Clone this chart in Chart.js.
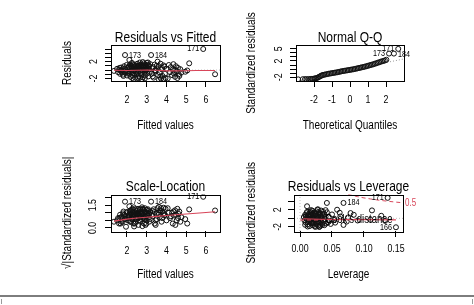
<!DOCTYPE html>
<html><head><meta charset="utf-8">
<script src="https://cdn.jsdelivr.net/npm/chart.js@4/dist/chart.umd.min.js"></script>
<style>
html,body{margin:0;padding:0;background:#fff;}
#wrap{position:relative;width:474px;height:305px;overflow:hidden;background:#fff;}
#wrap canvas{position:absolute;left:0;top:0;}
#rule{position:absolute;left:0;top:295px;width:474px;height:0;border-top:2px solid #7d7d7d;}
.mk{position:absolute;top:299px;width:1px;height:5px;background:#9a9a9a;}
</style></head><body>
<div id="wrap">
<canvas id="c1" width="474" height="305"></canvas>
<canvas id="c2" width="474" height="305"></canvas>
<canvas id="c3" width="474" height="305"></canvas>
<canvas id="c4" width="474" height="305"></canvas>
<div id="rule"></div><div class="mk" style="left:1px"></div><div class="mk" style="left:472px"></div>
</div>
<script>
// ---------- DATA ----------
// Residuals vs Fitted / Scale-Location (shared fitted values)
const fitted = [1.34,1.50,1.55,1.60,1.65,1.70,1.72,1.78,1.80,1.85,1.88,1.90,1.92,1.95,1.98,2.00,2.02,1.75,1.62,1.68,
 2.05,2.08,2.10,2.12,2.15,2.18,2.20,2.22,2.25,2.28,2.30,2.32,2.35,2.38,2.40,2.42,2.45,2.47,2.50,2.20,2.30,2.40,2.15,2.27,2.36,2.48,2.10,2.25,2.44,2.06,
 2.52,2.55,2.58,2.60,2.62,2.65,2.68,2.70,2.72,2.75,2.78,2.80,2.82,2.85,2.88,2.90,2.92,2.95,2.98,3.00,3.02,3.05,3.08,3.10,3.12,3.15,3.18,2.60,2.70,2.80,2.90,3.00,2.66,2.86,3.06,
 3.25,3.30,3.35,3.40,3.45,3.50,3.55,3.58,3.60,3.65,3.70,3.72,3.75,3.80,3.85,3.89,3.92,3.95,4.00,4.06,3.30,3.50,3.68,3.78,3.40,
 4.12,4.18,4.22,4.28,4.32,4.38,4.43,4.48,4.52,4.58,4.62,4.65,4.70,4.75,4.35,4.95,5.05,5.15,5.86,6.46,1.90,3.22,
 2.35,2.45,2.55,2.62,2.68,2.74,2.78,2.84,2.92,2.96,3.04,3.12,2.24,2.56,2.76,3.62,3.86,2.34,1.82,4.55,3.45,2.58,2.94,4.45];
const residuals = [-0.2,0.3,-0.5,0.1,-0.9,0.6,-0.2,0.2,-1.1,0.9,-0.4,0.4,-0.7,0.0,1.2,-1.3,0.5,-0.6,0.5,-0.1,
 -0.3,0.8,-0.9,2.4,0.2,-1.6,1.0,-0.5,0.4,-1.2,1.4,-0.1,0.7,-0.8,0.1,-1.8,1.1,-0.4,0.6,-0.2,-0.7,0.9,1.3,-1.9,0.0,-1.0,0.6,1.7,-0.2,-0.6,
 1.5,-0.6,0.9,-1.4,0.3,1.8,-0.2,0.6,-1.1,1.2,0.0,-1.7,0.8,1.6,-0.5,0.4,-1.3,1.0,-0.1,1.7,-0.8,0.5,-1.5,1.1,0.2,-0.4,1.4,1.1,-0.7,1.9,-2.0,0.3,-1.8,0.1,1.8,
 -0.9,0.7,-1.8,1.3,-0.3,0.4,2.0,-1.2,0.9,-0.6,1.5,-2.0,0.2,-1.4,1.1,0.8,-0.9,-1.9,0.3,-2.0,-1.5,1.0,-1.6,0.5,-0.1,
 1.2,-0.5,0.7,-1.2,0.1,-0.8,-1.6,0.9,-0.3,0.5,-1.0,-1.4,0.2,-0.6,1.4,-0.4,-0.1,1.6,5.0,-1.0,3.57,3.57,
 1.2,0.5,1.0,0.8,1.3,0.4,1.0,0.6,1.3,0.7,1.2,0.9,0.9,-1.9,-2.2,-2.3,-2.1,-2.2,-1.4,-1.9,-0.05,0.05,-0.05,0.05];
const sqrtStdResid = [0.41,0.50,0.65,0.29,0.87,0.71,0.41,0.41,0.96,0.87,0.58,0.58,0.77,0.08,1.00,1.05,0.65,0.71,0.65,0.29,
 0.50,0.82,0.87,1.42,0.41,1.16,0.92,0.65,0.58,1.00,1.08,0.29,0.77,0.82,0.29,1.23,0.96,0.58,0.71,0.41,0.77,0.87,1.05,1.26,0.10,0.92,0.71,1.20,0.41,0.71,
 1.12,0.71,0.87,1.08,0.50,1.23,0.41,0.71,0.96,1.00,0.12,1.20,0.82,1.16,0.65,0.58,1.05,0.92,0.29,1.20,0.82,0.65,1.12,0.96,0.41,0.58,1.08,0.96,0.77,1.26,1.30,0.50,1.23,0.29,1.23,
 0.87,0.77,1.23,1.05,0.50,0.58,1.30,1.00,0.87,0.71,1.12,1.30,0.41,1.08,0.96,0.82,0.87,1.26,0.50,1.30,1.12,0.92,1.16,0.65,0.29,
 1.00,0.65,0.77,1.00,0.29,0.82,1.16,0.87,0.50,0.65,0.92,1.08,0.41,0.71,1.08,0.58,0.29,1.22,2.05,1.15,1.73,1.73,
 1.00,0.65,0.92,0.82,1.05,0.58,0.92,0.71,1.05,0.77,1.00,0.87,0.87,1.26,1.36,1.39,1.33,1.36,1.08,1.26,0.20,0.20,0.20,0.20];
const rvfSmoothX = [1.34,2.0,2.5,3.0,3.5,4.0,4.5,5.0,5.5,6.0,6.46];
const rvfSmoothY = [-0.05,-0.1,-0.05,0.0,-0.05,-0.2,-0.2,-0.15,-0.12,-0.1,-0.1];
const slSmoothY  = [0.45,0.58,0.65,0.70,0.76,0.82,0.87,0.92,0.97,1.02,1.07];

// Normal Q-Q
const theoQuantiles = [-2.88,-2.62,-2.5,-2.42,-2.3,-2.2,-2.12,-2.05,-1.98,-1.92,-1.86,-1.8,-1.74,-1.68,-1.62,-1.56,-1.5,-1.42,-1.34,-1.26,
 -1.18,-1.1,-1.02,-0.94,-0.86,-0.78,-0.7,-0.62,-0.54,-0.46,-0.38,-0.3,-0.22,-0.14,-0.06,0.02,0.1,0.18,0.26,0.34,
 0.42,0.5,0.58,0.66,0.74,0.82,0.9,0.98,1.06,1.14,1.22,1.3,1.38,1.46,1.54,1.62,1.7,1.78,1.86,1.94,2.02,2.17,2.44,2.68];
const stdResidSorted = [-2.5,-2.45,-2.45,-2.45,-2.4,-2.4,-2.38,-2.35,-2.3,-2.25,-2.2,-2.1,-1.95,-1.8,-1.65,-1.52,-1.42,-1.35,-1.28,-1.2,
 -1.12,-1.06,-1.0,-0.94,-0.88,-0.82,-0.76,-0.68,-0.6,-0.52,-0.46,-0.4,-0.34,-0.28,-0.22,-0.16,-0.1,-0.04,0.04,0.12,
 0.2,0.28,0.36,0.44,0.52,0.6,0.7,0.8,0.9,1.0,1.1,1.2,1.32,1.44,1.56,1.68,1.8,1.92,2.02,2.12,2.3,3.8,3.8,4.95];
const qqLineX = [-3, 3];
const qqLineY = [-2.9, 2.5];

// Residuals vs Leverage
const leverage = [0.006,0.007,0.008,0.009,0.010,0.010,0.011,0.012,0.012,0.013,0.014,0.014,0.015,0.016,0.016,0.017,0.018,0.018,0.019,0.020,
 0.020,0.021,0.022,0.022,0.023,0.024,0.024,0.025,0.026,0.026,0.027,0.028,0.028,0.029,0.030,0.030,0.031,0.032,0.033,0.033,
 0.034,0.035,0.036,0.037,0.038,0.039,0.040,0.041,0.042,0.015,0.019,0.027,0.009,0.013,0.017,0.021,0.025,0.029,0.032,0.036,
 0.024,0.030,0.011,0.042,0.068,0.058,0.079,0.084,0.063,0.073,0.053,0.068,0.110,0.032,0.046,0.050,0.055,0.062,0.075,0.090,
 0.1125,0.127,0.133,0.137,0.150,0.045,0.048,
 0.008,0.011,0.013,0.015,0.017,0.019,0.021,0.023,0.025,0.027,0.029,0.031,0.033,0.035,0.012,0.018,0.022,0.026,0.028,0.034,0.038,0.040,0.044,0.020,0.016];
const stdResid = [0.3,-0.5,0.8,-1.0,0.1,1.2,-0.3,0.6,-1.4,0.0,1.0,-0.8,0.4,-0.2,1.5,-1.1,0.7,-0.6,0.2,-1.6,
 1.1,-0.1,0.5,-0.9,1.3,-0.4,0.9,-1.3,0.3,1.6,-0.7,0.1,-1.7,0.8,-0.3,1.2,-1.0,0.5,-0.5,1.8,
 0.0,-1.5,0.7,-0.8,1.0,-0.2,0.4,-1.2,1.4,-1.8,1.8,2.0,0.5,-0.6,0.9,-1.2,0.6,-0.9,-1.6,1.5,
 -2.0,-2.0,2.8,3.57,3.57,2.0,1.22,0.82,0.42,-0.75,-0.35,-1.53,-0.35,1.06,-0.6,0.9,-1.0,1.3,0.2,-0.5,
 1.84,0.59,-0.59,4.75,-2.07,0.3,-1.3,
 -1.5,1.5,0.7,-0.4,1.9,-1.0,0.3,-1.8,1.0,-0.2,1.4,-1.9,0.2,1.0,-1.9,1.3,-0.3,-1.1,2.1,-1.2,-1.6,1.9,-0.9,0.8,0.5];
const levSmoothX = [0.005,0.03,0.06,0.10,0.15];
const levSmoothY = [-0.1,-0.2,-0.3,-0.3,-0.35];
const cookX = [0.075,0.09,0.10,0.11,0.12,0.13,0.14,0.15,0.161];
const cookY = [5.6,5.03,4.74,4.50,4.28,4.09,3.92,3.76,3.61];

// Tick values and labels
const rvfXTicks = [2,3,4,5,6];
const rvfYTicks = [-2,-1,0,1,2,3,4,5];
const rvfYLabels = [[-2,'-2'],[2,'2']];
const qqXTicks = [-2,-1,0,1,2];
const qqYTicks = [-2,-1,0,1,2,3,4,5];
const qqYLabels = [[-2,'-2'],[2,'2'],[5,'5']];
const slYTicks = [0,0.5,1,1.5,2];
const slYLabels = [[0,'0.0'],[1.5,'1.5']];
const levXTicks = [0,0.05,0.10,0.15];
const levXLabels = ['0.00','0.05','0.10','0.15'];
const levYTicks = [-2,0,2,4];
const levYLabels = [[-2,'-2'],[2,'2']];

// Point identifiers
const rvfIds = [{t:'173',x:1.90,y:3.57,s:'r'},{t:'184',x:3.22,y:3.57,s:'r'},{t:'171',x:5.86,y:5.0,s:'l'}];
const qqIds  = [{t:'171',x:2.68,y:4.95,s:'l'},{t:'173',x:2.17,y:3.8,s:'l'},{t:'184',x:2.44,y:3.55,s:'r'}];
const slIds  = [{t:'173',x:1.90,y:1.73,s:'r'},{t:'184',x:3.22,y:1.73,s:'r'},{t:'171',x:5.86,y:2.05,s:'l'}];
const levIds = [{t:'184',x:0.068,y:3.57,s:'r'},{t:'171',x:0.137,y:4.75,s:'l'},{t:'166',x:0.150,y:-2.07,s:'l'}];

// ---------- DRAWING ----------
// The reference uses a condensed sans face; emulate it by narrowing text horizontally.
const TEXT_SQUEEZE = 0.8;
const _fillText = CanvasRenderingContext2D.prototype.fillText;
CanvasRenderingContext2D.prototype.fillText = function (t, x, y) {
  this.save(); this.translate(x, y); this.scale(TEXT_SQUEEZE, 1);
  _fillText.call(this, t, 0, 0);
  this.restore();
};

const FONT = "'Liberation Sans',Arial,sans-serif";
const RED = '#D8465A';
const GRAY = '#bebebe';
const pts = (xs, ys) => xs.map((x, i) => ({x, y: ys[i]}));

function framePlugin(cfg) {
  return {
    id: 'frame' + cfg.id,
    afterDraw(chart) {
      const {ctx, chartArea: a} = chart;
      const ys = chart.scales.y, xs = chart.scales.x;
      ctx.save();
      ctx.strokeStyle = '#000'; ctx.lineWidth = 1; ctx.setLineDash([]);
      ctx.strokeRect(Math.round(a.left) + 0.5, Math.round(a.top) + 0.5, Math.round(a.right - a.left), Math.round(a.bottom - a.top));
      ctx.fillStyle = '#000'; ctx.font = '11px ' + FONT; ctx.textAlign = 'center'; ctx.textBaseline = 'middle';
      cfg.yLabels.forEach(([v, t]) => {
        ctx.save(); ctx.translate(a.left - cfg.yOff, ys.getPixelForValue(v)); ctx.rotate(-Math.PI / 2);
        ctx.fillText(t, 0, 0); ctx.restore();
      });
      ctx.font = '9px ' + FONT;
      cfg.ids.forEach(p => {
        const px = xs.getPixelForValue(p.x), py = ys.getPixelForValue(p.y);
        ctx.textAlign = p.s === 'r' ? 'left' : 'right';
        ctx.fillText(p.t, p.s === 'r' ? px + 4 : px - 4, py);
      });
      if (cfg.extra) cfg.extra(chart, ctx, a, xs, ys);
      ctx.restore();
    }
  };
}

function scaleOpts(o) {
  return {
    type: 'linear', min: o.min, max: o.max,
    afterBuildTicks: s => { s.ticks = o.ticks.map(v => ({value: v})); },
    afterFit: s => { if (o.w !== undefined) s.width = o.w; if (o.h !== undefined) s.height = o.h; },
    ticks: o.showLabels ? {display: true, color: '#000', padding: o.pad, maxRotation: 0, autoSkip: false,
      font: {family: FONT, size: 11, lineHeight: 1.2},
      callback: (v, i) => o.labels ? o.labels[i] : String(v)} : {display: false},
    grid: {display: true, drawOnChartArea: false, drawTicks: true, tickLength: 6, color: '#000', lineWidth: 1},
    border: {display: false},
    title: {display: true, text: o.title, color: '#000', padding: 0, font: {family: FONT, size: 12.5, lineHeight: 1.2}}
  };
}

function panel(id, cfg) {
  new Chart(document.getElementById(id), {
    type: 'scatter',
    data: {datasets: cfg.datasets},
    options: {
      responsive: false, animation: false, events: [],
      layout: {padding: cfg.pad},
      plugins: {
        legend: {display: false}, tooltip: {enabled: false},
        title: {display: true, text: cfg.title, color: '#000', padding: 0, fullSize: false,
          font: {family: FONT, size: 15, weight: 'normal', lineHeight: 1}}
      },
      scales: {x: scaleOpts(cfg.x), y: scaleOpts(cfg.y)}
    },
    plugins: [framePlugin(cfg.frame)]
  });
}

const ptDs = data => ({data, pointStyle: 'circle', pointRadius: 2.5, pointBackgroundColor: 'rgba(0,0,0,0)',
  pointBorderColor: '#111', pointBorderWidth: 1, showLine: false});
const lineDs = (data, color, dash, w) => ({data, showLine: true, borderColor: color, borderWidth: w || 1,
  borderDash: dash || [], pointRadius: 0, fill: false, tension: 0});

// Residuals vs Fitted
panel('c1', {
  title: 'Residuals vs Fitted',
  pad: {left: 60.5, top: 30, right: 254, bottom: 171.5},
  x: {min: 1.19, max: 6.71, ticks: rvfXTicks, showLabels: true, pad: 6, h: 52.5, title: 'Fitted values'},
  y: {min: -2.6, max: 5.95, ticks: rvfYTicks, showLabels: false, w: 50.5, title: 'Residuals'},
  datasets: [
    lineDs(pts(rvfSmoothX, rvfSmoothY), RED, [], 1.1),
    ptDs(pts(fitted, residuals)),
    lineDs([{x: 1.19, y: 0}, {x: 6.71, y: 0}], GRAY, [1, 2], 1)
  ],
  frame: {id: 1, yLabels: rvfYLabels, yOff: 17, ids: rvfIds}
});

// Normal Q-Q
panel('c2', {
  title: 'Normal Q-Q',
  pad: {left: 244.5, top: 30, right: 70, bottom: 171.5},
  x: {min: -3.0, max: 3.0, ticks: qqXTicks, showLabels: true, pad: 6, h: 52.5, title: 'Theoretical Quantiles'},
  y: {min: -2.9, max: 5.9, ticks: qqYTicks, showLabels: false, w: 51.5, title: 'Standardized residuals'},
  datasets: [
    ptDs(pts(theoQuantiles, stdResidSorted)),
    lineDs(pts(qqLineX, qqLineY), '#999999', [1, 2], 1)
  ],
  frame: {id: 2, yLabels: qqYLabels, yOff: 17, ids: qqIds}
});

// Scale-Location
panel('c3', {
  title: 'Scale-Location',
  pad: {left: 60.5, top: 179.5, right: 254, bottom: 22.5},
  x: {min: 1.19, max: 6.71, ticks: rvfXTicks, showLabels: true, pad: 7, h: 51.5, title: 'Fitted values'},
  y: {min: -0.2, max: 2.2, ticks: slYTicks, showLabels: false, w: 50.5, title: '\u221A|Standardized residuals|'},
  datasets: [
    lineDs(pts(rvfSmoothX, slSmoothY), RED, [], 1.1),
    ptDs(pts(fitted, sqrtStdResid))
  ],
  frame: {id: 3, yLabels: slYLabels, yOff: 18, ids: slIds}
});

// Residuals vs Leverage
panel('c4', {
  title: 'Residuals vs Leverage',
  pad: {left: 244.5, top: 179.5, right: 71, bottom: 22.5},
  x: {min: -0.0094, max: 0.161, ticks: levXTicks, labels: levXLabels, showLabels: true, pad: 5, h: 51.5, title: 'Leverage'},
  y: {min: -2.94, max: 5.53, ticks: levYTicks, showLabels: false, w: 49.5, title: 'Standardized residuals'},
  datasets: [
    lineDs(pts(levSmoothX, levSmoothY), RED, [], 1.1),
    lineDs(pts(cookX, cookY), RED, [4, 3], 1),
    ptDs(pts(leverage, stdResid)),
    lineDs([{x: -0.0094, y: 0}, {x: 0.161, y: 0}], GRAY, [1, 2], 1),
    lineDs([{x: 0, y: -2.94}, {x: 0, y: 5.53}], GRAY, [1, 2], 1)
  ],
  frame: {id: 4, yLabels: levYLabels, yOff: 16, ids: levIds,
    extra: (chart, ctx, a, xs, ys) => {
      const ly = a.bottom - 11;
      ctx.strokeStyle = RED; ctx.lineWidth = 1; ctx.setLineDash([4, 3]);
      ctx.beginPath(); ctx.moveTo(a.left + 6, ly); ctx.lineTo(a.left + 28, ly); ctx.stroke();
      ctx.setLineDash([]);
      ctx.fillStyle = '#000'; ctx.font = '12px ' + FONT; ctx.textAlign = 'left'; ctx.textBaseline = 'middle';
      ctx.fillText("Cook's distance", a.left + 31, ly);
      ctx.fillStyle = RED; ctx.font = '10px ' + FONT;
      ctx.fillText('0.5', a.right + 2, ys.getPixelForValue(cookY[cookY.length - 1]));
    }}
});
</script>
</body></html>
